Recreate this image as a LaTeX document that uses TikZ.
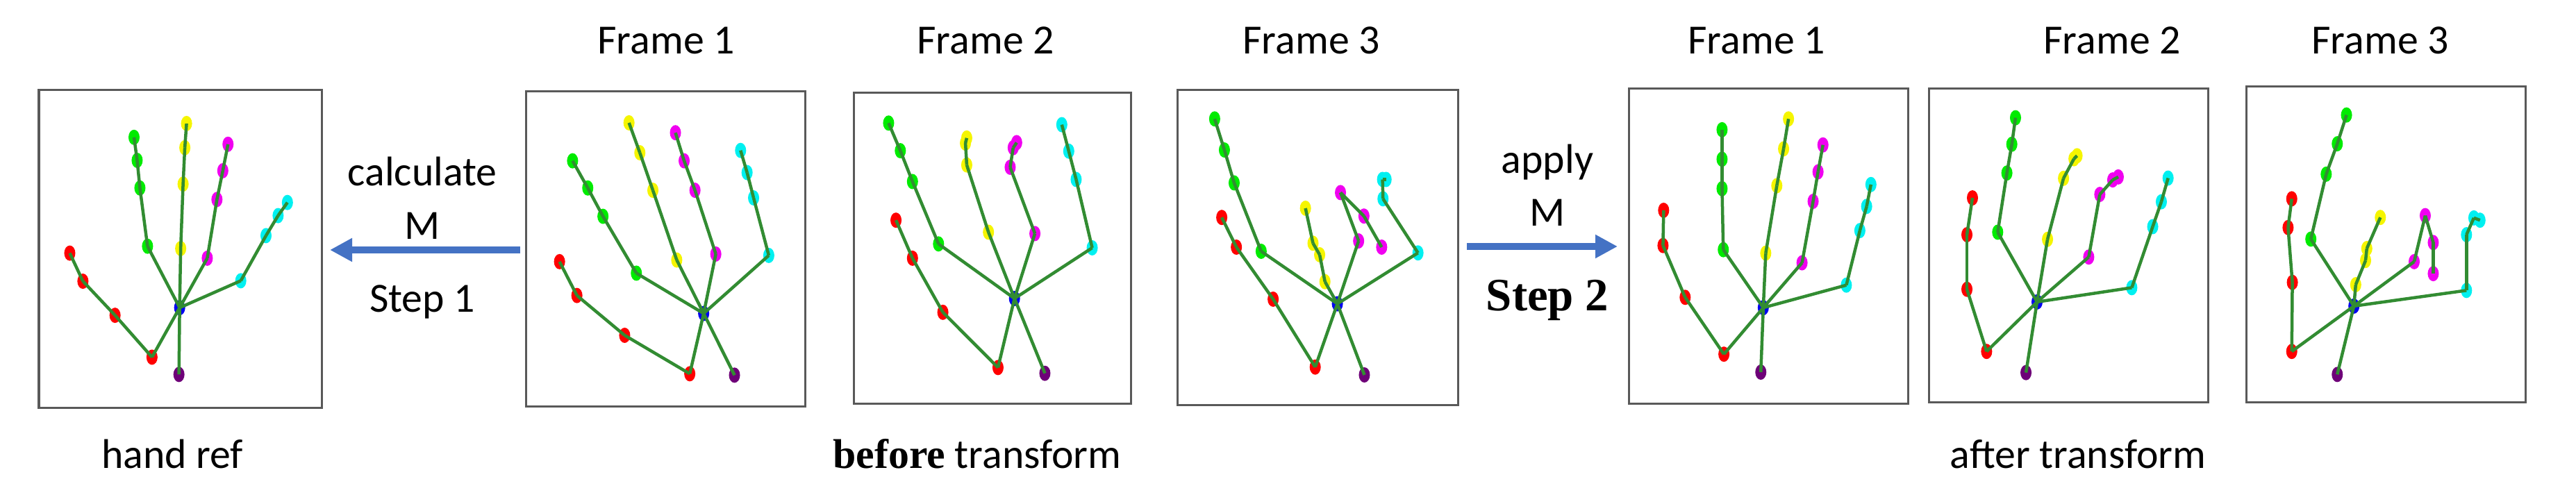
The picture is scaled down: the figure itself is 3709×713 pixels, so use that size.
\documentclass[tikz,border=0pt]{standalone}
\usepackage{fontspec}
\setmainfont{Carlito}
\newfontfamily\serb{Liberation Serif}
\usetikzlibrary{shapes.geometric,arrows.meta}
\definecolor{arrowblue}{RGB}{68,114,196}
\definecolor{bonegreen}{RGB}{50,140,50}
\definecolor{hred}{RGB}{255,0,0}
\definecolor{hgreen}{RGB}{0,235,0}
\definecolor{hyellow}{RGB}{245,245,0}
\definecolor{hmag}{RGB}{240,0,240}
\definecolor{hcyan}{RGB}{0,240,240}
\definecolor{hpurple}{RGB}{110,0,120}
\definecolor{hblue}{RGB}{0,0,240}
\tikzset{
  bone/.style={draw=bonegreen,line width=0.045cm},
  dot/.style={ellipse,inner sep=0,minimum width=0.16cm,minimum height=0.22cm,draw=none},
  lbl/.style={font=\fontsize{17}{20}\selectfont,inner sep=0},
  bigarrow/.style={arrowblue,line width=0.1cm,-{Triangle[length=0.32cm,width=0.32cm]}},
  framebox/.style={draw=black!65,line width=0.03cm}
}
\newcommand\drawhand{%
  \foreach \n/\c in {p/hpurple,r1/hred,r2/hred,r3/hred,r4/hred,g1/hgreen,g2/hgreen,g3/hgreen,g4/hgreen,
     y1/hyellow,y2/hyellow,y3/hyellow,y4/hyellow,m1/hmag,m2/hmag,m3/hmag,m4/hmag,c1/hcyan,c2/hcyan,c3/hcyan,c4/hcyan,w/hblue}
    {\node[dot,fill=\c] (d\n) at (\n) {};}
  \foreach \a/\b in {w/p,w/r1,r1/r2,r2/r3,r3/r4,w/g1,g1/g2,g2/g3,g3/g4,w/y1,y1/y2,y2/y3,y3/y4,
     w/m1,m1/m2,m2/m3,m3/m4,w/c1,c1/c2,c2/c3,c3/c4}
    {\draw[bone] (\a) -- (\b);}
}
\begin{document}
\begin{tikzpicture}[x=0.01cm,y=-0.01cm]
\useasboundingbox (0,0) rectangle (3709,713);
% boxes
\draw[framebox] (56,130) rectangle (463,588);
\draw[framebox] (757,132) rectangle (1159,586);
\draw[framebox] (1229,134) rectangle (1628,582);
\draw[framebox] (1695,130) rectangle (2099,584);
\draw[framebox] (2345,128) rectangle (2747,582);
\draw[framebox] (2777,128) rectangle (3179,580);
\draw[framebox] (3234,125) rectangle (3636,580);

% panel 0
\begin{scope}[shift={(0,100)},xscale=0.4974,yscale=0.3316]
\coordinate (w) at (520,1035); \coordinate (p) at (518,1325);
\coordinate (r1) at (440,1250); \coordinate (r2) at (333,1068); \coordinate (r3) at (240,920); \coordinate (r4) at (202,798);
\coordinate (g1) at (427,768); \coordinate (g2) at (405,515); \coordinate (g3) at (397,395); \coordinate (g4) at (388,295);
\coordinate (y1) at (523,778); \coordinate (y2) at (530,498); \coordinate (y3) at (535,340); \coordinate (y4) at (540,235);
\coordinate (m1) at (600,820); \coordinate (m2) at (628,565); \coordinate (m3) at (645,440); \coordinate (m4) at (660,325);
\coordinate (c1) at (697,918); \coordinate (c2) at (770,722); \coordinate (c3) at (805,635); \coordinate (c4) at (832,578);
\drawhand
\end{scope}
% panel 1
\begin{scope}[shift={(740,100)},xscale=0.625,yscale=0.3316]
\coordinate (w) at (437,1060); \coordinate (p) at (508,1328);
\coordinate (r1) at (405,1322); \coordinate (r2) at (255,1155); \coordinate (r3) at (145,982); \coordinate (r4) at (105,835);
\coordinate (g1) at (282,885); \coordinate (g2) at (205,638); \coordinate (g3) at (170,515); \coordinate (g4) at (135,397);
\coordinate (y1) at (375,828); \coordinate (y2) at (320,525); \coordinate (y3) at (290,362); \coordinate (y4) at (265,232);
\coordinate (m1) at (465,802); \coordinate (m2) at (417,525); \coordinate (m3) at (392,397); \coordinate (m4) at (372,275);
\coordinate (c1) at (587,808); \coordinate (c2) at (552,558); \coordinate (c3) at (537,448); \coordinate (c4) at (522,352);
\drawhand
\end{scope}
% panel 2
\begin{scope}[shift={(740,100)},xscale=0.625,yscale=0.3316]
\coordinate (w) at (1153,995); \coordinate (p) at (1223,1320);
\coordinate (r1) at (1115,1295); \coordinate (r2) at (988,1055); \coordinate (r3) at (918,820); \coordinate (r4) at (880,655);
\coordinate (g1) at (978,758); \coordinate (g2) at (918,487); \coordinate (g3) at (890,353); \coordinate (g4) at (863,233);
\coordinate (y1) at (1093,707); \coordinate (y2) at (1043,415); \coordinate (y3) at (1040,320); \coordinate (y4) at (1043,298);
\coordinate (m1) at (1200,713); \coordinate (m2) at (1143,425); \coordinate (m3) at (1150,340); \coordinate (m4) at (1158,318);
\coordinate (c1) at (1332,775); \coordinate (c2) at (1295,478); \coordinate (c3) at (1278,355); \coordinate (c4) at (1262,240);
\drawhand
\end{scope}
% panel 3
\begin{scope}[shift={(1680,100)},xscale=0.6378,yscale=0.3316]
\coordinate (w) at (385,1018); \coordinate (p) at (446,1327);
\coordinate (r1) at (335,1293); \coordinate (r2) at (240,998); \coordinate (r3) at (157,772); \coordinate (r4) at (124,643);
\coordinate (g1) at (213,790); \coordinate (g2) at (152,493); \coordinate (g3) at (130,350); \coordinate (g4) at (108,215);
\coordinate (y1) at (357,922); \coordinate (y2) at (345,805); \coordinate (y3) at (330,755); \coordinate (y4) at (313,603);
\coordinate (m1) at (433,745); \coordinate (m2) at (392,535); \coordinate (m3) at (445,637); \coordinate (m4) at (485,772);
\coordinate (c1) at (567,797); \coordinate (c2) at (488,562); \coordinate (c3) at (487,478); \coordinate (c4) at (495,478);
\drawhand
\end{scope}
% panel 4
\begin{scope}[shift={(2320,100)},xscale=0.8858,yscale=0.3316]
\coordinate (w) at (247,1035); \coordinate (p) at (243,1315);
\coordinate (r1) at (183,1237); \coordinate (r2) at (120,990); \coordinate (r3) at (84,765); \coordinate (r4) at (85,612);
\coordinate (g1) at (182,783); \coordinate (g2) at (180,518); \coordinate (g3) at (180,390); \coordinate (g4) at (180,262);
\coordinate (y1) at (251,798); \coordinate (y2) at (269,505); \coordinate (y3) at (280,345); \coordinate (y4) at (288,215);
\coordinate (m1) at (310,840); \coordinate (m2) at (328,573); \coordinate (m3) at (336,445); \coordinate (m4) at (344,328);
\coordinate (c1) at (382,937); \coordinate (c2) at (404,700); \coordinate (c3) at (415,595); \coordinate (c4) at (422,500);
\drawhand
\end{scope}
% panel 5
\begin{scope}[shift={(2320,100)},xscale=0.8858,yscale=0.3316]
\coordinate (w) at (692,1010); \coordinate (p) at (674,1317);
\coordinate (r1) at (610,1225); \coordinate (r2) at (578,955); \coordinate (r3) at (578,718); \coordinate (r4) at (587,558);
\coordinate (g1) at (628,707); \coordinate (g2) at (643,450); \coordinate (g3) at (651,325); \coordinate (g4) at (657,210);
\coordinate (y1) at (709,738); \coordinate (y2) at (735,473); \coordinate (y3) at (752,388); \coordinate (y4) at (757,375);
\coordinate (m1) at (776,815); \coordinate (m2) at (794,543); \coordinate (m3) at (815,480); \coordinate (m4) at (824,467);
\coordinate (c1) at (846,948); \coordinate (c2) at (880,683); \coordinate (c3) at (894,575); \coordinate (c4) at (905,472);
\drawhand
\end{scope}
% panel 6
\begin{scope}[shift={(2320,100)},xscale=0.8858,yscale=0.3316]
\coordinate (w) at (1207,1028); \coordinate (p) at (1180,1325);
\coordinate (r1) at (1106,1225); \coordinate (r2) at (1107,925); \coordinate (r3) at (1100,687); \coordinate (r4) at (1106,562);
\coordinate (g1) at (1137,737); \coordinate (g2) at (1162,455); \coordinate (g3) at (1180,323); \coordinate (g4) at (1195,198);
\coordinate (y1) at (1210,935); \coordinate (y2) at (1226,830); \coordinate (y3) at (1228,778); \coordinate (y4) at (1250,643);
\coordinate (m1) at (1305,835); \coordinate (m2) at (1323,635); \coordinate (m3) at (1336,752); \coordinate (m4) at (1336,887);
\coordinate (c1) at (1390,960); \coordinate (c2) at (1390,718); \coordinate (c3) at (1402,645); \coordinate (c4) at (1412,655);
\drawhand
\end{scope}

% titles
\node[lbl] (t1) at (959,58) {Frame 1};
\node[lbl] (t2) at (1419,58) {Frame 2};
\node[lbl] (t3) at (1888,58) {Frame 3};
\node[lbl] (t4) at (2529,58) {Frame 1};
\node[lbl] (t5) at (3041,58) {Frame 2};
\node[lbl] (t6) at (3427,58) {Frame 3};
\node[lbl,anchor=base] (l0) at (248,675) {hand ref};
\node[lbl,anchor=base] (l1) at (1407,675) {{\serb\bfseries before} transform};
\node[lbl,anchor=base] (l2) at (2992,675) {after transform};

% arrows and labels
\coordinate (a1s) at (749,360); \coordinate (a1e) at (475,360);
\draw[bigarrow] (a1s) -- (a1e);
\node[lbl,anchor=base] (calc) at (608,268) {calculate};
\node[lbl,anchor=base] (m1l) at (608,345) {M};
\node[lbl,anchor=base] (s1) at (608,450) {Step 1};
\coordinate (a2s) at (2112,355); \coordinate (a2e) at (2329,355);
\draw[bigarrow] (a2s) -- (a2e);
\node[lbl,anchor=base] (app) at (2228,250) {apply};
\node[lbl,anchor=base] (m2l) at (2228,326) {M};
\node[lbl,anchor=base,font=\fontsize{19}{22}\selectfont\serb\bfseries] (s2) at (2228,448) {Step 2};
\end{tikzpicture}
\end{document}
